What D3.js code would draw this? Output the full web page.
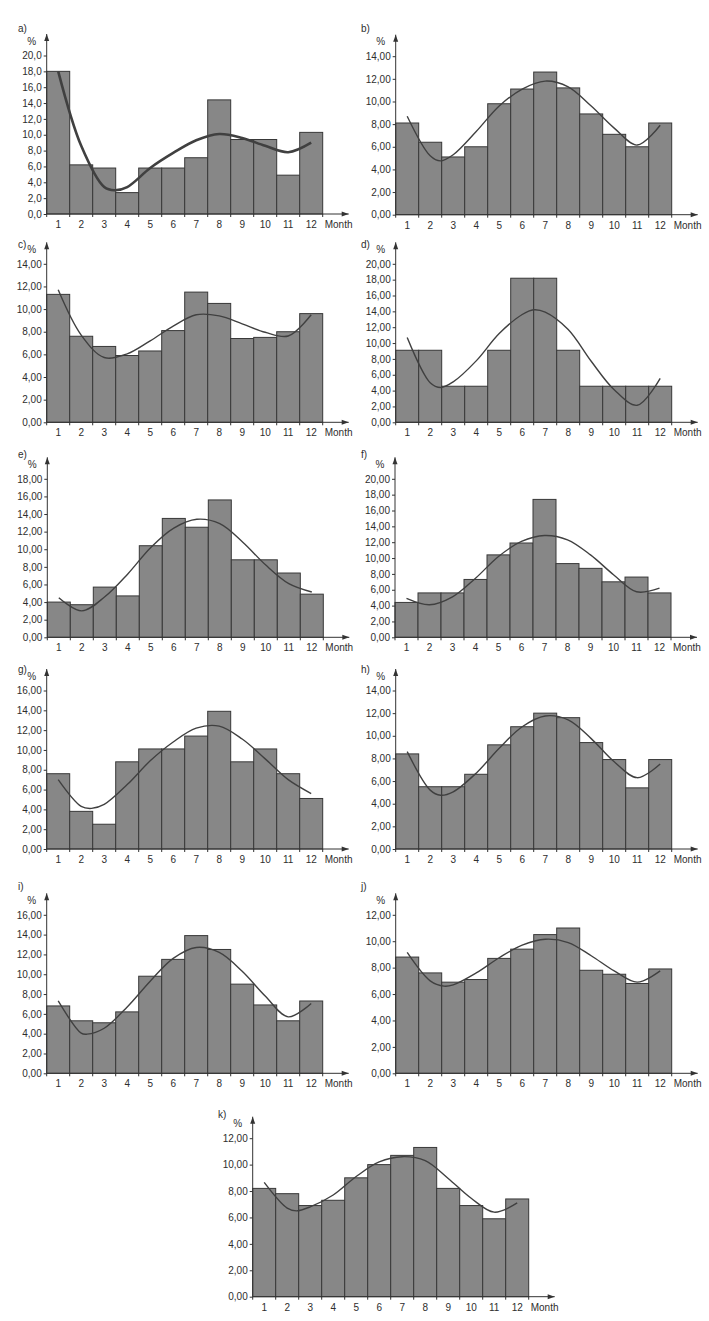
<!DOCTYPE html>
<html>
<head>
<meta charset="utf-8">
<script src="https://cdn.jsdelivr.net/npm/d3@7"></script>
<style>
  body { margin: 0; background: #fff; }
  svg text { font-family: "Liberation Sans", Arial, sans-serif; font-size: 10px; fill: #2e2e2e; }
</style>
</head>
<body>
<svg id="chart" width="709" height="1321"></svg>
<script>
// ===== DADOS =====

const months = [1, 2, 3, 4, 5, 6, 7, 8, 9, 10, 11, 12];
const panelNames = ["a", "b", "c", "d", "e", "f", "g", "h", "i", "j", "k"];
const yMaxes = [20, 14, 14, 20, 18, 20, 16, 14, 16, 12, 12];
const tickDecimals = [1, 2, 2, 2, 2, 2, 2, 2, 2, 2, 2];

// barras: % por mês; curvas: pares [mês, %]
const barsA = [18.0, 6.2, 5.8, 2.7, 5.8, 5.8, 7.1, 14.4, 9.4, 9.4, 4.9, 10.3];
const curveA = [[1, 18.0], [2, 8.6], [3, 3.4], [3.45, 3.0], [4, 3.4], [5, 5.8], [6, 7.7], [7, 9.3], [8, 10.1], [9, 9.6], [10, 8.6], [11, 7.8], [12, 9.0]];

const barsB = [8.1, 6.4, 5.1, 6.0, 9.8, 11.1, 12.6, 11.2, 8.9, 7.1, 6.0, 8.1];
const curveB = [[1, 8.7], [2, 5.2], [2.44, 4.75], [3, 5.3], [4, 7.35], [5, 9.6], [6, 11.1], [7, 11.8], [8, 11.3], [9, 9.6], [10, 7.65], [11, 6.15], [12, 7.9]];

const barsC = [11.3, 7.6, 6.7, 5.9, 6.3, 8.1, 11.5, 10.5, 7.4, 7.5, 8.0, 9.6];
const curveC = [[1, 11.7], [2, 7.7], [3, 5.72], [4, 6.05], [5, 7.2], [6, 8.5], [7, 9.5], [8, 9.4], [9, 8.7], [10, 7.95], [11, 7.62], [12, 9.5]];

const barsD = [9.09, 9.09, 4.55, 4.55, 9.09, 18.18, 18.18, 9.09, 4.55, 4.55, 4.55, 4.55];
const curveD = [[1, 10.7], [2, 5.0], [2.46, 4.4], [3, 5.1], [4, 7.75], [5, 11.2], [6, 13.6], [6.5, 14.2], [7, 13.9], [8, 11.7], [9, 7.7], [10, 4.1], [11, 2.15], [12, 5.55]];

const barsE = [4.0, 3.7, 5.7, 4.7, 10.4, 13.5, 12.5, 15.6, 8.8, 8.8, 7.3, 4.9];
const curveE = [[1, 4.5], [2, 3.0], [3, 4.6], [4, 7.2], [5, 10.2], [6, 12.4], [7, 13.4], [8, 12.9], [9, 10.8], [10, 8.2], [11, 6.1], [12, 5.15]];

const barsF = [4.4, 5.6, 5.6, 7.3, 10.4, 11.9, 17.4, 9.3, 8.7, 7.0, 7.6, 5.6];
const curveF = [[1, 4.9], [2, 4.1], [3, 5.1], [4, 7.45], [5, 10.2], [6, 12.1], [7, 12.85], [8, 12.3], [9, 10.4], [10, 7.9], [11, 5.75], [12, 6.2]];

const barsG = [7.6, 3.8, 2.5, 8.8, 10.1, 10.1, 11.4, 13.9, 8.8, 10.1, 7.6, 5.1];
const curveG = [[1, 7.0], [2, 4.3], [2.45, 4.1], [3, 4.5], [4, 6.5], [5, 8.9], [6, 10.8], [7, 12.2], [8, 12.4], [9, 11.1], [10, 9.1], [11, 7.0], [12, 5.6]];

const barsH = [8.4, 5.5, 5.5, 6.6, 9.2, 10.8, 12.0, 11.6, 9.4, 7.9, 5.4, 7.9];
const curveH = [[1, 8.6], [2, 5.2], [2.45, 4.75], [3, 5.05], [4, 6.7], [5, 8.9], [6, 10.8], [7, 11.75], [8, 11.4], [9, 9.75], [10, 7.7], [11, 6.3], [12, 7.5]];

const barsI = [6.8, 5.3, 5.1, 6.2, 9.8, 11.5, 13.9, 12.5, 9.0, 6.9, 5.3, 7.3];
const curveI = [[1, 7.3], [2, 4.05], [2.25, 3.95], [3, 4.55], [4, 6.7], [5, 9.3], [6, 11.6], [7, 12.7], [8, 12.2], [9, 10.3], [10, 7.8], [11, 5.7], [12, 7.05]];

const barsJ = [8.8, 7.6, 6.9, 7.1, 8.7, 9.4, 10.5, 11.0, 7.8, 7.5, 6.8, 7.9];
const curveJ = [[1, 9.15], [2, 7.0], [2.6, 6.6], [3, 6.7], [4, 7.6], [5, 8.75], [6, 9.7], [7, 10.15], [8, 9.9], [9, 8.9], [10, 7.75], [11, 6.9], [12, 7.75]];

const barsK = [8.2, 7.8, 6.9, 7.3, 9.0, 10.0, 10.7, 11.3, 8.2, 6.9, 5.9, 7.4];
const curveK = [[1, 8.65], [2, 6.7], [2.4, 6.5], [3, 6.8], [4, 7.7], [5, 9.1], [6, 10.2], [7, 10.6], [8, 10.3], [9, 8.95], [10, 7.45], [11, 6.4], [12, 7.1]];

const allBars = [barsA, barsB, barsC, barsD, barsE, barsF, barsG, barsH, barsI, barsJ, barsK];
const allCurves = [curveA, curveB, curveC, curveD, curveE, curveF, curveG, curveH, curveI, curveJ, curveK];

// ===== LAYOUT =====

const plotWidth = 276;
const plotHeight = 158.5;
const yAxisLength = 180;
const xAxisLength = 302;

const layout = [
  { x0: 46.7, y0: 214, lx: 18, ly: 29 },
  { x0: 395.7, y0: 214.7, lx: 361, ly: 29 },
  { x0: 46.7, y0: 422.3, lx: 18, ly: 245 },
  { x0: 395.7, y0: 422.3, lx: 361, ly: 245 },
  { x0: 47.3, y0: 637.3, lx: 18, ly: 455 },
  { x0: 395, y0: 637.3, lx: 361, ly: 455 },
  { x0: 46.7, y0: 849, lx: 18, ly: 670 },
  { x0: 395.7, y0: 849, lx: 361, ly: 670 },
  { x0: 46.7, y0: 1073.3, lx: 18, ly: 887 },
  { x0: 395.7, y0: 1073.3, lx: 361, ly: 887 },
  { x0: 252.7, y0: 1296.7, lx: 218, ly: 1115 }
];

const svg = d3.select("#chart");
svg.append("rect").attr("width", 709).attr("height", 1321).attr("fill", "#fff");

// ===== DESENHAR PAINEL =====

function drawPanel(i) {
  const { x0, y0, lx, ly } = layout[i];
  const bars = allBars[i];
  const curve = allCurves[i];
  const dec = tickDecimals[i];

  const x = d3.scaleBand().domain(months).range([x0, x0 + plotWidth]).padding(0);
  const xc = d3.scaleLinear().domain([0.5, 12.5]).range([x0, x0 + plotWidth]);
  const y = d3.scaleLinear().domain([0, yMaxes[i]]).range([y0, y0 - plotHeight]);
  const bw = x.bandwidth();

  const g = svg.append("g").attr("class", "panel");

  // barras
  g.selectAll("rect.bar")
    .data(bars)
    .join("rect")
    .attr("class", "bar")
    .attr("x", (d, k) => x(months[k]))
    .attr("y", d => y(d))
    .attr("width", bw)
    .attr("height", d => y0 - y(d))
    .attr("fill", "#878787")
    .attr("stroke", "#383838")
    .attr("stroke-width", 1);

  // curva ajustada
  const line = d3
    .line()
    .x(d => xc(d[0]))
    .y(d => y(d[1]))
    .curve(d3.curveCatmullRom.alpha(0.5));

  g.append("path")
    .datum(curve)
    .attr("d", line)
    .attr("fill", "none")
    .attr("stroke", "#404040")
    .attr("stroke-width", i === 0 ? 2.6 : 1.4);

  // eixo y
  const yAxis = d3
    .axisLeft(y)
    .tickValues(d3.range(0, yMaxes[i] + 0.01, 2))
    .tickSize(3)
    .tickPadding(2)
    .tickFormat(d => d.toFixed(dec).replace(".", ","));

  const yg = g.append("g").attr("transform", `translate(${x0},0)`).call(yAxis);
  yg.select(".domain").remove();
  yg.selectAll("line").attr("stroke", "#333");
  yg.selectAll("text").attr("fill", "#2e2e2e").attr("font-size", null).attr("font-family", null);

  g.append("line")
    .attr("x1", x0).attr("x2", x0)
    .attr("y1", y0).attr("y2", y0 - yAxisLength)
    .attr("stroke", "#333");
  g.append("path")
    .attr("d", `M${x0 - 2.5},${y0 - yAxisLength + 7}L${x0},${y0 - yAxisLength}L${x0 + 2.5},${y0 - yAxisLength + 7}Z`)
    .attr("fill", "#333");

  // eixo x
  g.append("line")
    .attr("x1", x0).attr("x2", x0 + xAxisLength)
    .attr("y1", y0).attr("y2", y0)
    .attr("stroke", "#333");
  g.append("path")
    .attr("d", `M${x0 + xAxisLength},${y0}L${x0 + xAxisLength - 7},${y0 - 2.5}L${x0 + xAxisLength - 7},${y0 + 2.5}Z`)
    .attr("fill", "#333");

  g.selectAll("line.xtick")
    .data(d3.range(0.5, 13, 1))
    .join("line")
    .attr("class", "xtick")
    .attr("x1", m => xc(m))
    .attr("x2", m => xc(m))
    .attr("y1", y0)
    .attr("y2", y0 + 3)
    .attr("stroke", "#333");

  const xAxis = d3.axisBottom(x).tickSize(0).tickPadding(7);
  const xg = g.append("g").attr("transform", `translate(0,${y0})`).call(xAxis);
  xg.select(".domain").remove();
  xg.selectAll("text").attr("fill", "#2e2e2e").attr("font-size", null).attr("font-family", null);

  g.append("text")
    .attr("x", x0 + plotWidth + 2)
    .attr("y", y0 + 7)
    .attr("dy", "0.71em")
    .text("Month");

  // rótulos
  g.append("text")
    .attr("x", x0 - 15)
    .attr("y", y0 - 172)
    .attr("text-anchor", "middle")
    .attr("dominant-baseline", "middle")
    .text("%");

  g.append("text")
    .attr("x", lx)
    .attr("y", ly)
    .attr("dominant-baseline", "middle")
    .text(panelNames[i] + ")");
}

panelNames.forEach((p, i) => drawPanel(i));
</script>
</body>
</html>
